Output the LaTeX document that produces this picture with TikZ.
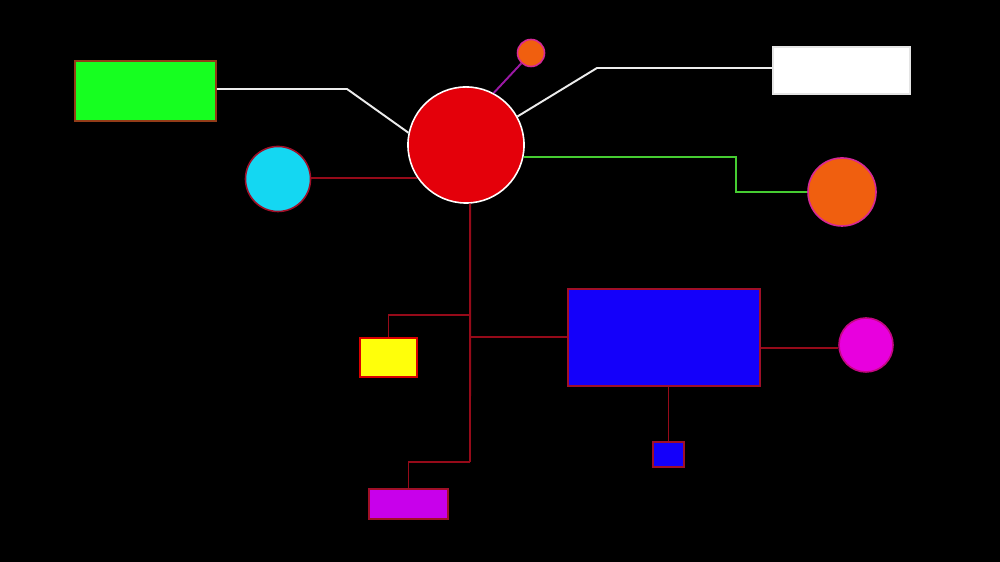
\documentclass[tikz,border=0pt]{standalone}
\usepackage{tikz}
\usetikzlibrary{
  positioning,
  calc
}
\definecolor{boxgreen}{RGB}{22,255,32}
\definecolor{boxblue}{RGB}{20,0,250}
\definecolor{boxyellow}{RGB}{255,255,10}
\definecolor{boxviolet}{RGB}{200,0,235}
\definecolor{dotred}{RGB}{228,0,10}
\definecolor{dotcyan}{RGB}{20,215,242}
\definecolor{dotorange}{RGB}{240,95,15}
\definecolor{dotpink}{RGB}{232,0,222}
\definecolor{wirered}{RGB}{150,10,25}
\definecolor{wiregreen}{RGB}{70,205,50}
\definecolor{wirepurple}{RGB}{155,25,165}
\definecolor{rimred}{RGB}{160,15,40}
\definecolor{rimpink}{RGB}{215,40,150}
\tikzset{
  x=0.01cm, y=-0.01cm,
  box/.style={rectangle, draw=rimred, line width=0.45pt, inner sep=0pt},
  dot/.style={circle, draw=rimred, line width=0.45pt, inner sep=0pt},
  wire/.style={draw=wirered, line width=0.55pt},
  whitewire/.style={draw=white!85!gray, line width=0.55pt}
}

\begin{document}
\begin{tikzpicture}
    \fill[black] (0,0) rectangle (1000,562);
    \useasboundingbox (0,0) rectangle (1000,562);
    \node[box, fill=boxgreen, draw=rimred!60!olive, minimum width=1.41cm, minimum height=0.6cm] (green) at (145.5,91) {};
    \node[box, fill=white, draw=white!80!gray, minimum width=1.37cm, minimum height=0.47cm] (white) at (841.5,70.5) {};
    \node[dot, fill=dotred, draw=white, minimum size=1.16cm] (hub) at (466,145) {};
    \node[dot, fill=dotorange, draw=rimpink, minimum size=0.27cm] (spark) at (531,53) {};
    \node[dot, fill=dotcyan, minimum size=0.65cm] (cyan) at (278,179) {};
    \node[dot, fill=dotorange, draw=rimpink, minimum size=0.68cm] (orange) at (842,192) {};
    \node[box, fill=boxblue, minimum width=1.92cm, minimum height=0.97cm] (blue) at (664,337.5) {};
    \node[box, fill=boxblue, minimum width=0.31cm, minimum height=0.25cm] (chip) at (668.5,454.5) {};
    \node[dot, fill=dotpink, draw=rimred!50!dotpink, minimum size=0.54cm] (pink) at (866,345) {};
    \node[box, fill=boxyellow, draw=red!85!black, minimum width=0.57cm, minimum height=0.39cm] (yellow) at (388.5,357.5) {};
    \node[box, fill=boxviolet, minimum width=0.79cm, minimum height=0.3cm] (violet) at (408.5,504) {};
    \coordinate (w1) at (347,89);
    \coordinate (w2) at (597,68);
    \coordinate (g1) at (736,175);
    \coordinate (t1) at (470,315);
    \coordinate (t2) at (470,337);
    \coordinate (t3) at (470,462);
    \draw[whitewire] (green.east |- w1) -- (w1) -- (hub.168);
    \draw[whitewire] (hub.29) -- (w2) -- (white.west |- w2);
    \draw[wirepurple, line width=0.55pt] (hub.62) -- (spark);
    \draw[wiregreen, line width=0.55pt] (hub.-12) -| (g1) |- (orange.west);
    \draw[wire] (cyan.east |- hub.214) -- (hub.214);
    \draw[wire] (hub.-86) -- (t3);
    \draw[wire] (t1) -| (yellow.north);
    \draw[wire] (t2) -- (blue.west |- t2);
    \draw[wire] (t3) -| (violet.north);
    \draw[wire] (blue.south -| chip.north) -- (chip.north);
    \draw[wire] (blue.east |- 0,348) -- (pink.west |- 0,348);
  \end{tikzpicture}
\end{document}
